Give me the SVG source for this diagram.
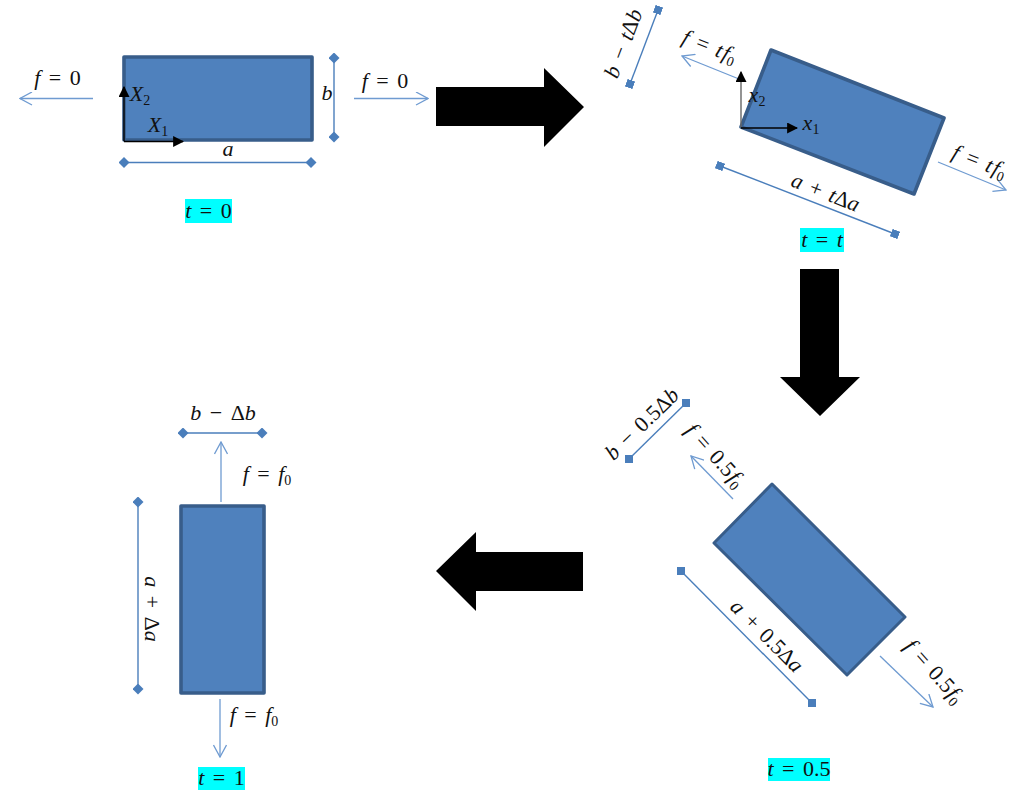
<svg xmlns="http://www.w3.org/2000/svg" width="1024" height="797" viewBox="0 0 1024 797">
<style>
.box{fill:#4f81bd;stroke:#385d8a;stroke-width:3.6;stroke-linejoin:round}
.box2{stroke-width:3}
.force{fill:none;stroke:#6f9bd1;stroke-width:1.3;marker-end:url(#open)}
.dimd{fill:none;stroke:#4a7ebb;stroke-width:1.4;marker-start:url(#dia);marker-end:url(#dia)}
.dims{fill:none;stroke:#4a7ebb;stroke-width:1.4;marker-start:url(#sq);marker-end:url(#sq)}
.dimr{fill:none;stroke:#4a7ebb;stroke-width:1.4;marker-start:url(#sqr);marker-end:url(#sqr)}
.axis{fill:none;stroke:#000;stroke-width:1.4;marker-end:url(#solid)}
.block{fill:#000}
.hl{fill:#00ffff}
text{font-family:"Liberation Serif","DejaVu Serif",serif;font-size:22px;fill:#111;text-anchor:middle;word-spacing:3px}
.i{font-style:italic}
.sub{font-size:14px}
</style>
<defs>
<marker id="open" viewBox="0 0 14 14" refX="13" refY="7" markerWidth="14" markerHeight="14" markerUnits="userSpaceOnUse" orient="auto"><path d="M1 0.5 L13 7 L1 13.5" fill="none" stroke="#6f9bd1" stroke-width="1.3"/></marker>
<marker id="dia" viewBox="0 0 10 10" refX="5" refY="5" markerWidth="11" markerHeight="11" markerUnits="userSpaceOnUse" orient="0"><path d="M5 0 L10 5 L5 10 L0 5Z" fill="#4a7ebb"/></marker>
<marker id="sq" viewBox="0 0 10 10" refX="5" refY="5" markerWidth="8" markerHeight="8" markerUnits="userSpaceOnUse" orient="0"><rect width="10" height="10" fill="#4a7ebb"/></marker>
<marker id="sqr" viewBox="0 0 10 10" refX="5" refY="5" markerWidth="8" markerHeight="8" markerUnits="userSpaceOnUse" orient="auto"><rect width="10" height="10" fill="#4a7ebb"/></marker>
<marker id="solid" viewBox="0 0 10 10" refX="9" refY="5" markerWidth="11" markerHeight="11" markerUnits="userSpaceOnUse" orient="auto"><path d="M0 0 L10 5 L0 10Z" fill="#000"/></marker>
</defs>

<g id="connectors">
<path class="force" d="M93 98.5H20"/>
<path class="force" d="M354 98.5H428"/>
<path class="dimd" d="M334 58V137"/>
<path class="dimd" d="M124 162.5H311"/>
<path class="force" d="M739 79L682 56"/>
<path class="force" d="M938 162L1006 190"/>
<path class="dimr" d="M658 10L630 84"/>
<path class="dimr" d="M720 166L895 234"/>
<path class="force" d="M733 499L691 456"/>
<path class="force" d="M880 656L933 707"/>
<path class="dims" d="M686 403L629 459"/>
<path class="dims" d="M681 571L812 703"/>
<path class="force" d="M221 502V442"/>
<path class="force" d="M220 699V757"/>
<path class="dimd" d="M183 433H262"/>
<path class="dimd" d="M138 502V689"/>
</g>

<g id="block-arrows">
<polygon class="block" points="436,87 544,87 544,68 584,107 544,147 544,126 436,126"/>
<polygon class="block" points="800,269 839,269 839,377 860,377 820,416 780,377 800,377"/>
<polygon class="block" points="583,552 476,552 476,532 436,571 476,611 476,591 583,591"/>
</g>

<g id="state-t0">
<rect class="box" x="124" y="57" width="188" height="83"/>
<path class="axis" d="M124 141V87"/>
<path class="axis" d="M124 141.500H183"/>
<text x="57.500" y="85"><tspan class="i">f</tspan> = 0</text>
<text x="385" y="88"><tspan class="i">f</tspan> = 0</text>
<text x="327" y="100" class="i">b</text>
<text x="228" y="156" class="i">a</text>
<text x="140" y="101"><tspan class="i">X</tspan><tspan class="sub" dy="4">2</tspan></text>
<text x="158" y="132"><tspan class="i">X</tspan><tspan class="sub" dy="4">1</tspan></text>
<rect class="hl" x="185" y="199" width="47" height="24"/>
<text x="208.500" y="218"><tspan class="i">t</tspan> = 0</text>
</g>

<g id="state-tt">
<polygon class="box" points="771,50 944,118 914,194 741,127"/>
<path class="axis" d="M741 127.500V72" style="stroke:#666"/>
<path class="axis" d="M741 128H797"/>
<text x="757" y="102"><tspan class="i">x</tspan><tspan class="sub" dy="4">2</tspan></text>
<text x="811" y="130"><tspan class="i">x</tspan><tspan class="sub" dy="4">1</tspan></text>
<text transform="translate(707 53) rotate(21.500)"><tspan class="i">f</tspan> = <tspan class="i">t</tspan><tspan class="i" dx="1.500">f</tspan><tspan class="sub" dy="4">0</tspan></text>
<text transform="translate(977 168) rotate(21.500)"><tspan class="i">f</tspan> = <tspan class="i">t</tspan><tspan class="i" dx="1.500">f</tspan><tspan class="sub" dy="4">0</tspan></text>
<text transform="translate(823 199) rotate(21.500)"><tspan class="i">a</tspan> + <tspan class="i">t</tspan>Δ<tspan class="i">a</tspan></text>
<text transform="translate(630 46) rotate(-69)"><tspan class="i">b</tspan> − <tspan class="i">t</tspan>Δ<tspan class="i">b</tspan></text>
<rect class="hl" x="800" y="228" width="44" height="24"/>
<text x="822" y="247"><tspan class="i">t</tspan> = <tspan class="i">t</tspan></text>
</g>

<g id="state-t05">
<polygon class="box box2" points="772,484 905,617 847,675 714,543"/>
<text transform="translate(710 460) rotate(48)"><tspan class="i">f</tspan> = 0.5<tspan class="i" dx="1">f</tspan><tspan class="sub" dy="4">0</tspan></text>
<text transform="translate(929 676) rotate(48)"><tspan class="i">f</tspan> = 0.5<tspan class="i" dx="1">f</tspan><tspan class="sub" dy="4">0</tspan></text>
<text transform="translate(762 641) rotate(45)"><tspan class="i">a</tspan> + 0.5Δ<tspan class="i">a</tspan></text>
<text transform="translate(647 429) rotate(-44)"><tspan class="i">b</tspan> − 0.5Δ<tspan class="i">b</tspan></text>
<rect class="hl" x="768" y="758" width="62" height="23"/>
<text x="799" y="776"><tspan class="i">t</tspan> = 0.5</text>
</g>

<g id="state-t1">
<rect class="box" x="181" y="506" width="83" height="187"/>
<text x="223" y="420"><tspan class="i">b</tspan> − Δ<tspan class="i">b</tspan></text>
<text x="267" y="481"><tspan class="i">f</tspan> = <tspan class="i">f</tspan><tspan class="sub" dy="4">0</tspan></text>
<text x="254" y="722"><tspan class="i">f</tspan> = <tspan class="i">f</tspan><tspan class="sub" dy="4">0</tspan></text>
<text transform="translate(145 609) rotate(90)"><tspan class="i">a</tspan> + Δ<tspan class="i">a</tspan></text>
<rect class="hl" x="198" y="767" width="47" height="23"/>
<text x="221.500" y="785"><tspan class="i">t</tspan> = 1</text>
</g>
</svg>
